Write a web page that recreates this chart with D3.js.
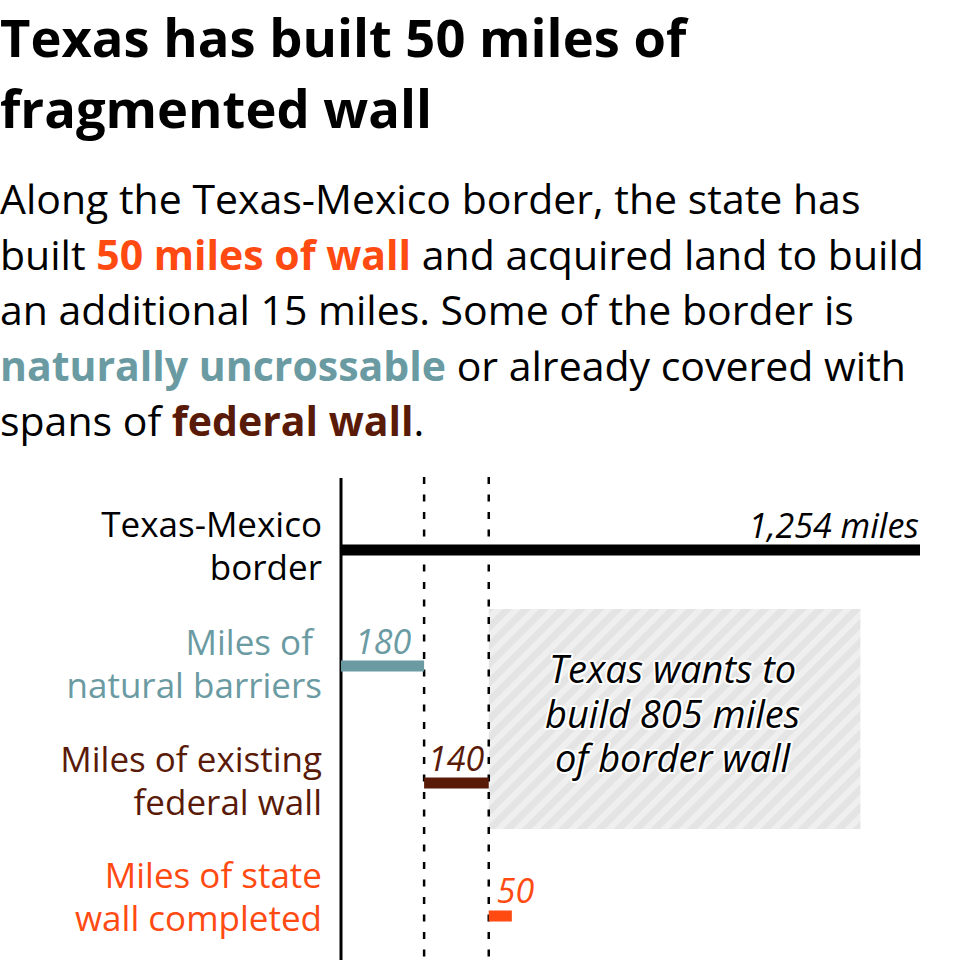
<!DOCTYPE html>
<html>
<head>
<meta charset="utf-8">
<script src="https://cdn.jsdelivr.net/npm/d3@7"></script>
<style>
  body { margin: 0; background: #fff; }
  svg { display: block; font-family: "Open Sans", sans-serif; }
</style>
</head>
<body>
<div id="chart"></div>
<script>
// dados
const categorias = ["border", "natural", "federal", "state"];
const rotulos = [
  ["Texas-Mexico", "border"],
  ["Miles of ", "natural barriers"],
  ["Miles of existing", "federal wall"],
  ["Miles of state", "wall completed"]
];
const inicio = [0, 0, 180, 320];
const milhas = [1254, 180, 140, 50];
const textoValor = ["1,254 miles", "180", "140", "50"];
const planejado = { inicio: 320, milhas: 805 };
const divisorias = [180, 320];
const anotacao = ["Texas wants to", "build 805 miles", "of border wall"];

const titulo = ["Texas has built 50 miles of", "fragmented wall"];
const subtitulo = [
  [["Along the Texas-Mexico border, the state has", null]],
  [["built ", null], ["50 miles of wall", "state"], [" and acquired land to build", null]],
  [["an additional 15 miles. Some of the border is", null]],
  [["naturally uncrossable", "natural"], [" or already covered with", null]],
  [["spans of ", null], ["federal wall", "federal"], [".", null]]
];

const cores = {
  border: "#000",
  natural: "#6b9ba2",
  federal: "#5a1a08",
  state: "#ff4a12"
};

const width = 960, height = 960;
const svg = d3.select("#chart").append("svg")
  .attr("width", width).attr("height", height);

// titulo
svg.append("g").selectAll("text")
  .data(titulo).join("text")
  .attr("x", 0)
  .attr("y", (d, i) => 57 + i * 71)
  .style("font-size", "52.5px").style("font-weight", 700)
  .attr("fill", "#000")
  .text(d => d);

// subtitulo
const sub = svg.append("g");
subtitulo.forEach((linha, i) => {
  const t = sub.append("text")
    .attr("x", 0).attr("y", 214 + i * 55.5)
    .style("font-size", "41px").attr("fill", "#000");
  linha.forEach(([txt, cat]) => {
    t.append("tspan")
      .attr("fill", cat ? cores[cat] : "#000")
      .style("font-weight", cat ? 700 : 400)
      .text(txt);
  });
});

// escalas
const x = d3.scaleLinear().domain([0, 1254]).range([341, 920]);
const yBarra = d3.scaleOrdinal().domain(categorias).range([550, 666, 783, 916]);
const yRotulo = d3.scaleOrdinal().domain(categorias).range([537, 655, 772, 888]);

const dados = categorias.map((c, i) => ({
  cat: c, rotulo: rotulos[i], inicio: inicio[i], milhas: milhas[i], texto: textoValor[i]
}));

// padrão hachurado
const defs = svg.append("defs");
const pat = defs.append("pattern")
  .attr("id", "hachura")
  .attr("patternUnits", "userSpaceOnUse")
  .attr("width", 13).attr("height", 13)
  .attr("patternTransform", "rotate(45)");
pat.append("rect").attr("width", 13).attr("height", 13).attr("fill", "#e4e4e4");
pat.append("rect").attr("width", 6).attr("height", 13).attr("fill", "#efefef");

svg.append("rect")
  .attr("x", x(planejado.inicio))
  .attr("y", 609)
  .attr("width", x(planejado.inicio + planejado.milhas) - x(planejado.inicio))
  .attr("height", 220)
  .attr("fill", "url(#hachura)");

// linhas tracejadas
svg.append("g").selectAll("line")
  .data(divisorias).join("line")
  .attr("x1", d => x(d)).attr("x2", d => x(d))
  .attr("y1", 477).attr("y2", height)
  .attr("stroke", "#000").attr("stroke-width", 2.5)
  .attr("stroke-dasharray", "7,10.5");

// eixo
svg.append("line")
  .attr("x1", x(0)).attr("x2", x(0))
  .attr("y1", 478).attr("y2", height)
  .attr("stroke", "#000").attr("stroke-width", 3);

// barras
svg.append("g").selectAll("rect")
  .data(dados).join("rect")
  .attr("x", d => x(d.inicio))
  .attr("y", d => yBarra(d.cat) - 5.5)
  .attr("width", d => x(d.inicio + d.milhas) - x(d.inicio))
  .attr("height", 11)
  .attr("fill", d => cores[d.cat]);

// rotulos das categorias
dados.forEach(d => {
  svg.append("g").selectAll("text")
    .data(d.rotulo).join("text")
    .attr("x", 322)
    .attr("y", (t, i) => yRotulo(d.cat) + i * 43)
    .attr("text-anchor", "end")
    .style("font-size", "35px")
    .style("white-space", "pre")
    .attr("fill", cores[d.cat])
    .text(t => t);
});

// valores
const ancora = { border: "end", natural: "end", federal: "start", state: "start" };
const desloc = {
  border: d => x(d.inicio + d.milhas) - 1,
  natural: d => x(d.inicio + d.milhas) - 13,
  federal: d => x(d.inicio) + 4,
  state: d => x(d.inicio) + 8
};
svg.append("g").selectAll("text")
  .data(dados).join("text")
  .attr("x", d => desloc[d.cat](d))
  .attr("y", d => yBarra(d.cat) - 12 - (d.cat === "state" ? 1 : 0))
  .attr("text-anchor", d => ancora[d.cat])
  .style("font-size", "34px").style("font-style", "italic")
  .attr("fill", d => cores[d.cat])
  .text(d => d.texto);

// anotacao
const cx = (x(planejado.inicio) + x(planejado.inicio + planejado.milhas)) / 2 - 2;
svg.append("g").selectAll("text")
  .data(anotacao).join("text")
  .attr("x", cx)
  .attr("y", (d, i) => 683 + i * 44.5)
  .attr("text-anchor", "middle")
  .style("font-size", "38px").style("font-style", "italic")
  .attr("fill", "#000")
  .attr("stroke", "#fff").attr("stroke-width", 4)
  .attr("paint-order", "stroke")
  .attr("stroke-linejoin", "round")
  .text(d => d);
</script>
</body>
</html>
